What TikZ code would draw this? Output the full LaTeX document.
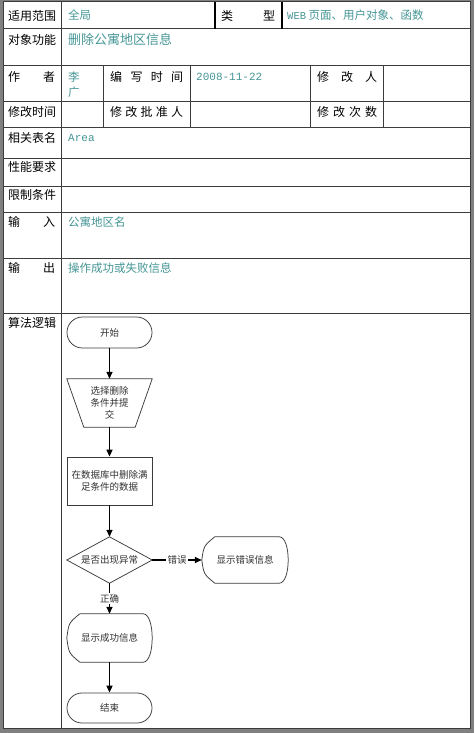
\documentclass[tikz,border=0pt]{standalone}
\usepackage{fontspec}
\setmainfont{Noto Sans CJK SC}
\newfontfamily\cjk{Noto Sans CJK SC}
\newfontfamily\mono{Liberation Mono}
\usetikzlibrary{arrows.meta}
\definecolor{framegray}{RGB}{128,128,128}
\definecolor{linegray}{RGB}{60,60,60}
\definecolor{teal2}{RGB}{70,150,150}
\definecolor{flowtext}{RGB}{50,50,50}
\newcommand{\dispshape}[1]{%
  \draw[shp] ([xshift=13pt]#1.north west) -- ([xshift=-9pt]#1.north east)
    .. controls ([xshift=3pt]#1.north east) and ([xshift=3pt]#1.south east) .. ([xshift=-9pt]#1.south east)
    -- ([xshift=13pt]#1.south west)
    .. controls ([xshift=2pt,yshift=9pt]#1.south west) .. (#1.west)
    .. controls ([xshift=2pt,yshift=-9pt]#1.north west) .. ([xshift=13pt]#1.north west) -- cycle;}
\begin{document}
\begin{tikzpicture}[x=1pt,y=-1pt,
  tline/.style={draw=linegray,line width=1pt},
  lbl/.style={anchor=west,inner sep=0pt,font=\cjk\fontsize{12}{14}\selectfont,text=black},
  val/.style={anchor=west,inner sep=0pt,font=\cjk\fontsize{11.5}{15}\selectfont,text=teal2},
  ftext/.style={inner sep=0pt,font=\cjk\fontsize{9.5}{12}\selectfont,text=flowtext,align=center},
  shp/.style={draw=linegray,line width=0.75pt},
  conn/.style={draw=black,line width=1.5pt,-{Triangle[length=7pt,width=6pt]}},
  elabel/.style={fill=white,inner sep=1.5pt,font=\cjk\fontsize{9.5}{12}\selectfont,text=flowtext}]
\useasboundingbox (0,0) rectangle (474,733);
\fill[framegray] (0,0) rectangle (474,733);
\fill[white] (3,2) rectangle (470,728);
% table grid
\draw[tline] (3,2) rectangle (470,728);
\foreach \yy in {29,66,102,128,158,186,212,258,313}{\draw[tline] (3,\yy) -- (470,\yy);}
\draw[tline] (61,2) -- (61,728);
\draw[draw=black,line width=1.6pt] (215,2) -- (215,29);
\draw[draw=black,line width=1.3pt] (282,2) -- (282,29);
\foreach \xx in {103,190,310,383}{\draw[tline] (\xx,66) -- (\xx,128);}
% labels
\node[lbl] (l1) at (8,15.5) {适用范围};
\node[lbl] (l1b) at (221,15.5) {\makebox[54pt][s]{类\hfill 型}};
\node[lbl] (l2) at (8,40) {对象功能};
\node[lbl] (l3) at (8,77) {\makebox[47pt][s]{作\hfill 者}};
\node[lbl] (l3b) at (110,77) {\makebox[73pt][s]{编\hfill 写\hfill 时\hfill 间}};
\node[lbl] (l3c) at (317,77) {\makebox[60pt][s]{修\hfill 改\hfill 人}};
\node[lbl] (l4) at (8,112) {修改时间};
\node[lbl] (l4b) at (110,112) {\makebox[73pt][s]{修\hfill 改\hfill 批\hfill 准\hfill 人}};
\node[lbl] (l4c) at (317,112) {\makebox[60pt][s]{修\hfill 改\hfill 次\hfill 数}};
\node[lbl] (l5) at (8,138) {相关表名};
\node[lbl] (l6) at (8,167) {性能要求};
\node[lbl] (l7) at (8,195) {限制条件};
\node[lbl] (l8) at (8,222) {\makebox[47pt][s]{输\hfill 入}};
\node[lbl] (l9) at (8,268) {\makebox[47pt][s]{输\hfill 出}};
\node[lbl] (l10) at (8,323) {算法逻辑};
% values
\node[val] (v1) at (68,15.5) {全局};
\node[val,font=\cjk\fontsize{11.5}{14}\selectfont] (v1b) at (287,15.5) {{\mono\fontsize{10.5}{12}\selectfont WEB} 页面、用户对象、函数};
\node[val,font=\cjk\fontsize{13}{15}\selectfont] (v2) at (68,40) {删除公寓地区信息};
\node[val,align=left] (v3) at (68,84.5) {李\\广};
\node[val,font=\mono\fontsize{11}{13}\selectfont] (v3b) at (196,77) {2008-11-22};
\node[val,font=\mono\fontsize{11}{13}\selectfont] (v5) at (68,138) {Area};
\node[val] (v8) at (68,222) {公寓地区名};
\node[val] (v9) at (68,268) {操作成功或失败信息};
% flowchart
\node[ftext,shp,rectangle,rounded corners=15.4pt,minimum width=85pt,minimum height=31pt] (start) at (109.5,332.5) {开始};
\node[ftext,minimum width=85pt,minimum height=48pt] (sel) at (109.5,403) {选择删除\\条件并提\\交};
\draw[shp] (sel.north west) -- (sel.north east) -- ([xshift=-17pt]sel.south east) -- ([xshift=17pt]sel.south west) -- cycle;
\node[ftext,shp,rectangle,minimum width=85pt,minimum height=48pt] (db) at (109.5,481) {在数据库中删除满\\足条件的数据};
\node[ftext,minimum width=85pt,minimum height=46pt] (dec) at (109.5,560) {是否出现异常};
\draw[shp] (dec.north) -- (dec.east) -- (dec.south) -- (dec.west) -- cycle;
\node[ftext,minimum width=86pt,minimum height=46pt] (err) at (245,560) {显示错误信息};
\dispshape{err}
\node[ftext,minimum width=85pt,minimum height=48pt] (ok) at (109.5,638) {显示成功信息};
\dispshape{ok}
\node[ftext,shp,rectangle,rounded corners=14.9pt,minimum width=85pt,minimum height=30pt] (stop) at (109.5,708) {结束};
% connectors
\draw[conn] (start) -- (sel);
\draw[conn] (sel) -- (db);
\draw[conn] (db) -- (dec);
\draw[conn] (dec) -- node[elabel] {错误} (err);
\draw[conn] (dec) -- node[elabel] {正确} (ok);
\draw[conn] (ok) -- (stop);
\end{tikzpicture}
\end{document}
